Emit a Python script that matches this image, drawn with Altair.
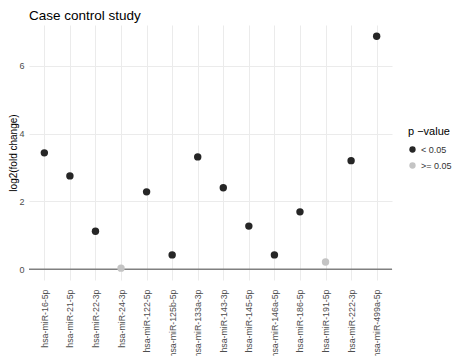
import altair as alt
import pandas as pd

mirnas = ["hsa-miR-16-5p", "hsa-miR-21-5p", "hsa-miR-22-3p", "hsa-miR-24-3p",
          "hsa-miR-122-5p", "hsa-miR-125b-5p", "hsa-miR-133a-3p", "hsa-miR-143-3p",
          "hsa-miR-145-5p", "hsa-miR-146a-5p", "hsa-miR-186-5p", "hsa-miR-191-5p",
          "hsa-miR-222-3p", "hsa-miR-499a-5p"]
log2fc = [3.43, 2.75, 1.12, 0.03, 2.28, 0.42, 3.31, 2.40, 1.27, 0.42, 1.69, 0.21, 3.20, 6.87]
pgroup = ["< 0.05", "< 0.05", "< 0.05", ">= 0.05", "< 0.05", "< 0.05", "< 0.05", "< 0.05",
          "< 0.05", "< 0.05", "< 0.05", ">= 0.05", "< 0.05", "< 0.05"]
y_ticks = [0, 1, 2, 3, 4, 5, 6, 7]

df = pd.DataFrame({"mirna": mirnas, "fc": log2fc, "p": pgroup})
FONT = "Liberation Sans"

ydom = [-0.32, 7.2]

points = alt.Chart(df).mark_circle(size=55, opacity=1).encode(
    x=alt.X("mirna:N", sort=mirnas, scale=alt.Scale(type="point", padding=0.6),
            axis=alt.Axis(title=None, labelAngle=-90, ticks=False, domain=False, grid=True,
                          labelPadding=9, labelFontSize=8.8, labelColor="#4d4d4d",
                          labelFont=FONT, gridColor="#EBEBEB", gridWidth=1)),
    y=alt.Y("fc:Q", scale=alt.Scale(domain=ydom, nice=False, zero=False),
            axis=alt.Axis(title="log2(fold change)", values=y_ticks,
                          labelExpr="datum.value % 2 == 0 ? datum.label : ''",
                          ticks=False, domain=False, labelPadding=5, labelFontSize=9,
                          labelColor="#4d4d4d", labelFont=FONT, titleFont=FONT,
                          titleFontSize=10, titleFontWeight="normal", titleColor="#000000",
                          titlePadding=0, gridColor="#EBEBEB", gridWidth=1)),
    color=alt.Color("p:N", scale=alt.Scale(domain=["< 0.05", ">= 0.05"],
                                           range=["#262626", "#c4c4c4"]),
                    legend=alt.Legend(title="p \u2212value", orient="none",
                                      legendX=379, legendY=101, titleFont=FONT,
                                      titleFontSize=11, titleFontWeight="normal",
                                      titleColor="#000000", labelFont=FONT,
                                      labelFontSize=9, labelColor="#333333",
                                      symbolSize=40, symbolType="circle",
                                      rowPadding=6, titlePadding=8)),
)

zero_line = alt.Chart(pd.DataFrame({"y": [0]})).mark_rule(color="#808080", strokeWidth=1.5).encode(
    y=alt.Y("y:Q", scale=alt.Scale(domain=ydom, nice=False, zero=False))
)

chart = alt.layer(zero_line, points).properties(
    width=363, height=255,
    title=alt.TitleParams("Case control study", anchor="start", frame="group", font=FONT,
                          fontSize=13.5, fontWeight="normal", color="#000000", offset=3),
    autosize=alt.AutoSizeParams(type="none"),
    padding={"left": 21, "top": 17, "right": 74, "bottom": 76},
).configure_view(stroke=None).configure_axis(gridOpacity=1)

chart.save("out.html", embed_options={"renderer": "svg", "actions": False})
